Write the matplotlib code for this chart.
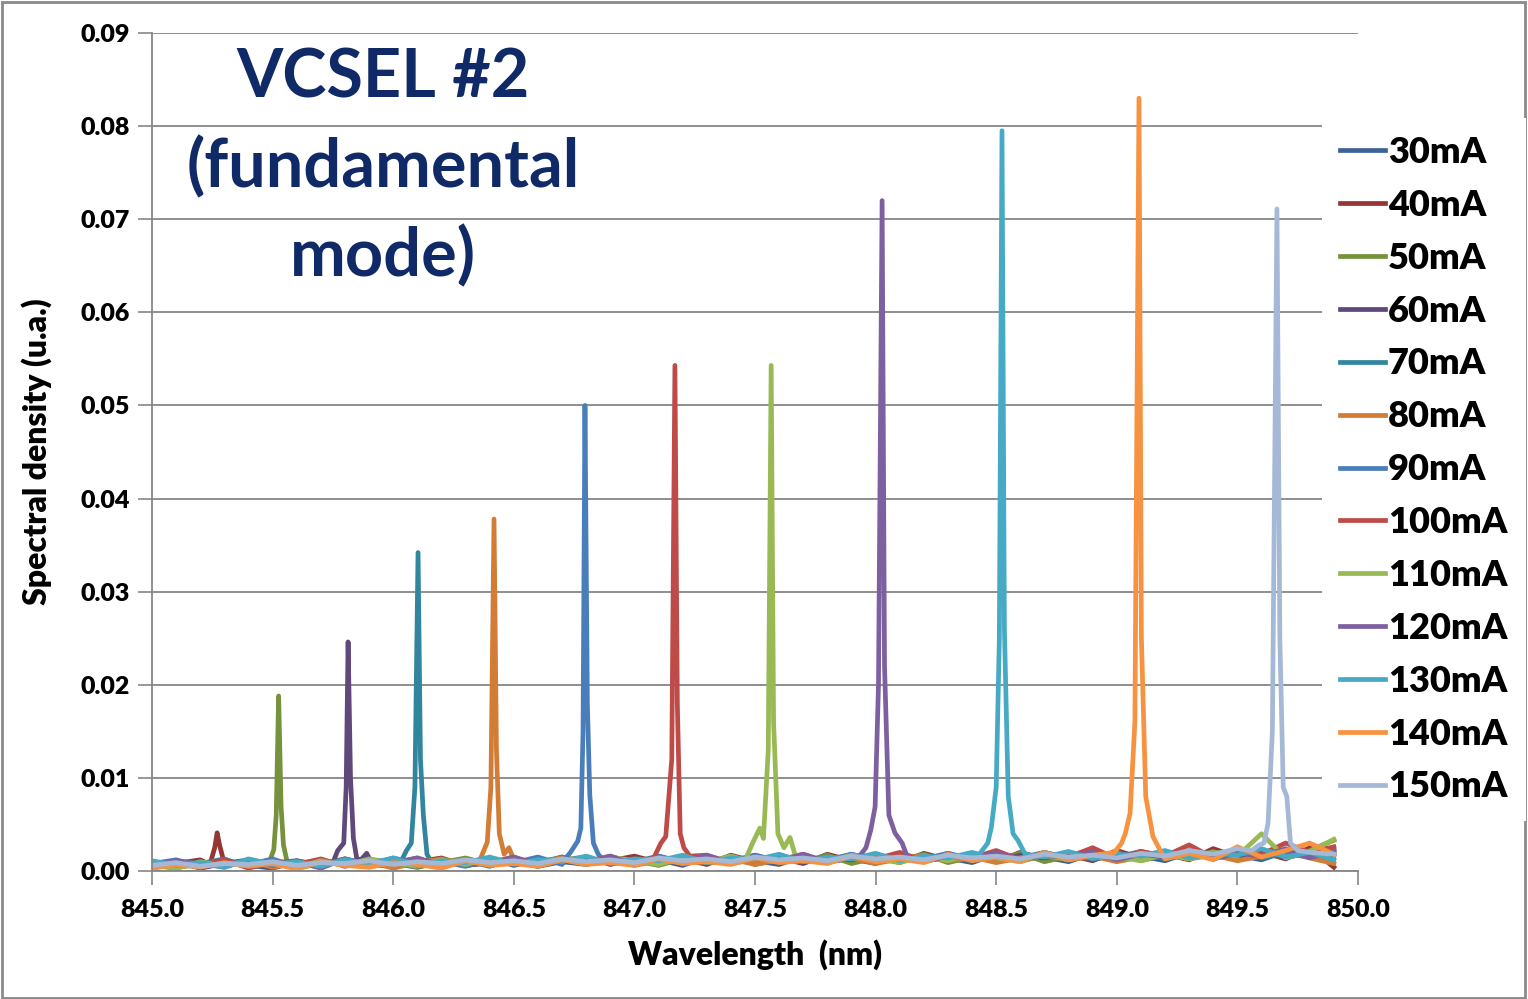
import numpy as np
import matplotlib
matplotlib.use("Agg")
import matplotlib.pyplot as plt
from matplotlib.patches import Rectangle

plt.rcParams['font.family'] = ['Lato', 'DejaVu Sans']
plt.rcParams['font.weight'] = 'bold'

labels = ["30mA", "40mA", "50mA", "60mA", "70mA", "80mA", "90mA",
          "100mA", "110mA", "120mA", "130mA", "140mA", "150mA"]
colors = ["#3B6396", "#963634", "#76923C", "#5F497A", "#31859C", "#D27C36", "#4A7EBB",
          "#BE4B48", "#98B954", "#7D60A0", "#46AAC5", "#F69240", "#A5B8D6"]

# baseline noise, 845.0 .. 849.9 nm every 0.1 nm, units of 1e-4
base_start = 845.0
base_step = 0.1
baselines = [
    "4 9 5 11 6 3 10 7 12 5 8 4 11 6 9 13 5 10 7 14 8 12 6 15 9 11 7 16 10 13 8 17 11 14 9 18 12 15 10 19 13 16 11 20 14 17 12 21 15 18",
    "3 8 12 5 9 4 11 6 13 7 5 10 14 6 9 12 7 15 8 11 16 9 13 7 17 10 14 8 18 11 15 9 19 12 16 10 20 13 17 11 22 14 18 12 24 15 20 13 25 4",
    "9 4 7 12 5 10 3 8 13 6 11 4 9 14 7 10 5 12 15 8 11 6 13 9 16 7 12 10 17 8 14 11 18 9 15 12 19 10 16 13 20 11 17 14 21 12 18 15 22 33",
    "5 10 3 8 12 6 9 4 11 7 13 5 10 8 14 6 12 9 15 7 13 10 16 8 14 11 17 9 15 12 18 10 16 13 19 11 17 14 20 12 18 15 21 13 19 16 22 14 20 17",
    "10 5 8 13 4 9 11 6 12 7 10 14 8 11 5 13 9 15 7 12 10 16 8 13 11 17 9 14 12 18 10 15 13 19 11 16 14 20 12 17 15 21 13 18 16 22 14 19 17 23",
    "6 3 9 5 11 4 8 12 6 10 3 9 13 7 11 5 10 14 8 12 6 11 15 9 13 7 12 16 10 14 8 13 17 11 15 9 14 18 12 16 10 15 19 13 17 11 16 20 14 8",
    "8 12 5 10 7 13 4 9 11 6 14 8 10 5 12 9 15 7 11 13 8 16 10 12 9 17 11 14 10 18 12 15 11 19 13 16 12 20 14 17 13 21 15 18 14 22 16 19 15 23",
    "4 9 6 12 3 10 7 13 5 11 8 14 6 12 9 15 7 13 10 16 8 14 11 17 9 15 12 18 10 16 13 20 11 17 14 22 12 19 15 25 13 21 16 28 14 24 18 30 20 26",
    "7 3 10 5 12 8 4 11 6 13 9 5 12 7 14 10 6 13 8 15 11 7 14 9 16 12 8 15 10 17 13 9 16 11 18 14 10 17 12 19 15 11 18 13 20 16 40 14 21 34",
    "5 11 8 4 12 6 10 3 13 7 9 14 5 11 8 15 6 12 9 16 7 13 10 17 8 14 11 18 9 15 12 19 10 16 13 20 11 17 14 21 12 18 15 22 13 19 16 24 14 21",
    "11 6 9 4 13 7 10 5 12 8 14 6 11 9 15 7 12 10 16 8 13 11 17 9 14 12 18 10 15 13 19 11 16 14 20 12 17 15 21 13 18 16 22 14 19 17 24 15 20 12",
    "3 7 4 9 5 8 2 10 6 4 9 7 3 11 6 8 5 12 7 9 6 13 8 10 7 14 9 11 8 16 10 13 9 18 11 15 10 20 12 17 11 23 13 19 12 26 15 22 30 18",
    "6 9 5 8 7 10 6 9 8 11 7 10 8 12 9 11 8 13 10 12 9 14 11 13 10 15 12 14 11 16 13 15 12 17 14 16 13 18 15 17 14 19 16 22 18 24 26 22 20 18",
]

# lasing line of each current: (wavelength nm, density in 1e-4)
peaks = [
    [],
    [(845.24, 7), (845.26, 25), (845.27, 41), (845.28, 28), (845.30, 8)],
    [(845.47, 8), (845.49, 12), (845.505, 23), (845.515, 60), (845.525, 188),
     (845.535, 70), (845.545, 28), (845.56, 10)],
    [(845.75, 9), (845.77, 22), (845.795, 30), (845.805, 90), (845.813, 246),
     (845.823, 100), (845.835, 35), (845.85, 12), (845.87, 13), (845.89, 19), (845.91, 9)],
    [(846.03, 9), (846.055, 22), (846.075, 30), (846.09, 90), (846.103, 342),
     (846.113, 120), (846.125, 60), (846.14, 18), (846.16, 9)],
    [(846.36, 12), (846.39, 31), (846.405, 90), (846.418, 378), (846.428, 130),
     (846.44, 40), (846.46, 18), (846.48, 25), (846.50, 12)],
    [(846.71, 12), (846.735, 20), (846.765, 32), (846.778, 46), (846.787, 150),
     (846.795, 500), (846.805, 180), (846.815, 82), (846.83, 30), (846.85, 18), (846.87, 12)],
    [(847.08, 14), (847.11, 30), (847.13, 37), (847.155, 120), (847.168, 543),
     (847.178, 180), (847.19, 40), (847.205, 25), (847.23, 16)],
    [(847.46, 12), (847.49, 30), (847.505, 38), (847.52, 46), (847.535, 35),
     (847.555, 130), (847.567, 543), (847.577, 160), (847.595, 40), (847.62, 25),
     (847.645, 36), (847.67, 14)],
    [(847.93, 15), (847.96, 25), (847.98, 44), (847.998, 69), (848.012, 200),
     (848.027, 720), (848.037, 220), (848.055, 60), (848.08, 41), (848.11, 30), (848.13, 16)],
    [(848.43, 18), (848.465, 30), (848.48, 47), (848.50, 90), (848.513, 250),
     (848.524, 795), (848.534, 260), (848.55, 80), (848.57, 40), (848.59, 33), (848.62, 18)],
    [(848.99, 20), (849.02, 30), (849.035, 40), (849.055, 62), (849.075, 160),
     (849.092, 830), (849.102, 250), (849.12, 80), (849.15, 37), (849.18, 22)],
    [(849.56, 22), (849.59, 28), (849.61, 30), (849.627, 51), (849.645, 150),
     (849.664, 711), (849.676, 250), (849.69, 90), (849.705, 80), (849.72, 30), (849.75, 22)],
]

fig = plt.figure(figsize=(15.28, 9.99), dpi=100)
ax = fig.add_axes([152 / 1528, 1 - 871 / 999, (1358 - 152) / 1528, (871 - 33) / 999])

for lab, col, b, pk in zip(labels, colors, baselines, peaks):
    yb = np.array([float(v) for v in b.split()])
    xb = base_start + base_step * np.arange(len(yb))
    if pk:
        px = np.array([p[0] for p in pk])
        py = np.array([p[1] for p in pk], dtype=float)
        keep = (xb < px.min()) | (xb > px.max())
        x = np.concatenate([xb[keep], px])
        y = np.concatenate([yb[keep], py])
        order = np.argsort(x)
        x, y = x[order], y[order]
    else:
        x, y = xb, yb
    ax.plot(x, y * 1e-4, color=col, lw=3.4, label=lab, solid_joinstyle='round')

ax.set_xlim(845.0, 850.0)
ax.set_ylim(0, 0.09)
ax.set_xticks(np.arange(845.0, 850.01, 0.5))
ax.set_yticks(np.arange(0, 0.0901, 0.01))
ax.xaxis.set_major_formatter(plt.FormatStrFormatter('%.1f'))
ax.yaxis.set_major_formatter(plt.FormatStrFormatter('%.2f'))
ax.tick_params(axis='both', direction='out', length=10, width=1.2, color='#868686',
               labelsize=18, pad=6)
for t in ax.get_xticklabels() + ax.get_yticklabels():
    t.set_fontweight('heavy')
ax.tick_params(axis='x', pad=10)
ax.grid(axis='y', color='#868686', lw=1.3)
ax.set_axisbelow(True)
for s in ['top', 'right']:
    ax.spines[s].set_visible(False)
for s in ['left', 'bottom']:
    ax.spines[s].set_color('#868686')
    ax.spines[s].set_linewidth(1.3)

ax.set_xlabel("Wavelength  (nm)", fontsize=23, fontweight='heavy', labelpad=13)
ax.set_ylabel("Spectral density (u.a.)", fontsize=23, fontweight='heavy', labelpad=20)

fig.text(383 / 1528, 1 - 168 / 999, "VCSEL #2\n(fundamental\nmode)", ha='center', va='center',
         fontsize=48, fontweight='bold', color='#0F2A66', linespacing=1.5)

leg = fig.legend(loc='upper left', bbox_to_anchor=(1322 / 1528, 1 - 118 / 999),
                 prop={'size': 26, 'weight': 'heavy'}, frameon=True, facecolor='white',
                 edgecolor='none', framealpha=1, fancybox=False,
                 handlelength=1.25, handletextpad=0.08, labelspacing=0.55, borderpad=0.5,
                 borderaxespad=0)
for line in leg.get_lines():
    line.set_linewidth(3.4)

fig.patches.append(Rectangle((0.001, 0.001), 0.997, 0.997, transform=fig.transFigure,
                             fill=False, edgecolor='#8A8A8A', lw=2))

fig.savefig("out.png", dpi=100)
